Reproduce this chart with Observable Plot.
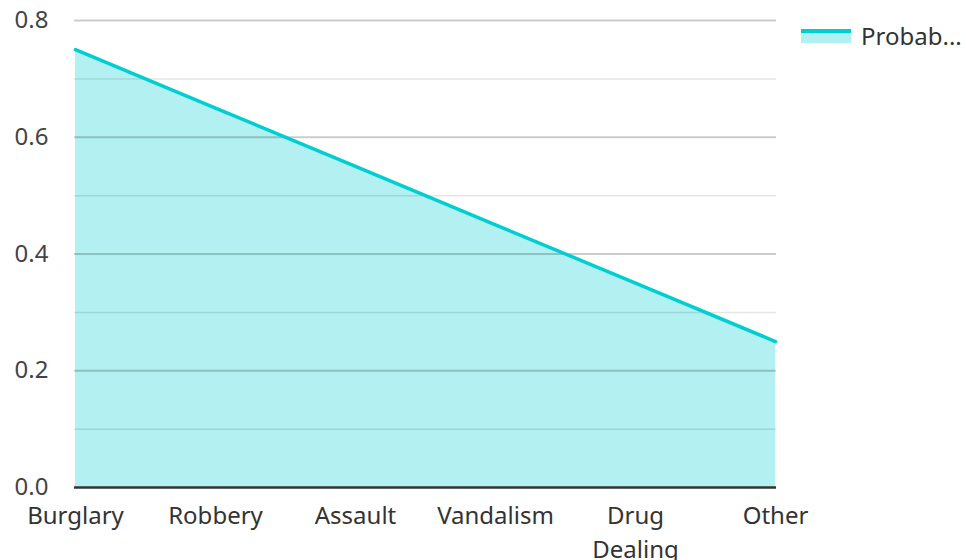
<!DOCTYPE html>
<html>
<head>
<meta charset="utf-8">
<script src="https://cdn.jsdelivr.net/npm/d3@7"></script>
<script src="https://cdn.jsdelivr.net/npm/@observablehq/plot@0.6"></script>
<style>
  html, body { margin: 0; padding: 0; background: #fff; }
  #wrap { position: relative; width: 966px; height: 560px; font-family: "Noto Sans", sans-serif; }
  #legend { position: absolute; left: 801px; top: 19px; display: flex; align-items: center; font-size: 24px; color: #333; white-space: nowrap; }
  #legend .sw { width: 50px; height: 14px; position: relative; margin-right: 10px; }
  #legend .sw .fill { position: absolute; left: 0; top: 4px; width: 50px; height: 10px; background: rgba(0,206,209,0.3); }
  #legend .sw .ln { position: absolute; left: 0; top: 0; width: 50px; height: 4px; background: rgb(0,206,209); }
</style>
</head>
<body>
<div id="wrap"></div>
<script>
const categories = ["Burglary", "Robbery", "Assault", "Vandalism", "Drug Dealing", "Other"];
const probability = [0.75, 0.65, 0.55, 0.45, 0.35, 0.25];
const tickLabels = ["Burglary", "Robbery", "Assault", "Vandalism", "Drug\nDealing", "Other"];
const majorTicks = [0, 0.2, 0.4, 0.6, 0.8];
const minorTicks = [0.1, 0.3, 0.5, 0.7];
const seriesName = "Probability";

const data = categories.map((c, i) => ({category: c, value: probability[i]}));
const labelOf = new Map(categories.map((c, i) => [c, tickLabels[i]]));

const chart = Plot.plot({
  width: 966,
  height: 560,
  marginLeft: 74,
  marginRight: 190,
  marginTop: 20,
  marginBottom: 73,
  style: {fontFamily: "Noto Sans, sans-serif", fontSize: "24px", color: "#444", background: "#fff"},
  x: {type: "point", domain: categories, padding: 0, label: null},
  y: {domain: [0, 0.8], label: null},
  marks: [
    Plot.areaY(data, {x: "category", y: "value", fill: "rgb(0,206,209)", fillOpacity: 0.3}),
    Plot.gridY(minorTicks, {stroke: "#000", strokeOpacity: 0.1, strokeWidth: 1.5}),
    Plot.gridY(majorTicks.filter(d => d > 0), {stroke: "#000", strokeOpacity: 0.2, strokeWidth: 2}),
    Plot.lineY(data, {x: "category", y: "value", stroke: "rgb(0,206,209)", strokeWidth: 3.5}),
    Plot.ruleY([0], {stroke: "#333", strokeWidth: 2.5}),
    Plot.axisY({ticks: majorTicks, tickFormat: d3.format(".1f"), tickSize: 0, tickPadding: 26, fontSize: 24, fill: "#444", label: null}),
    Plot.axisX({tickSize: 0, tickPadding: 13, tickFormat: d => labelOf.get(d), fontSize: 24, fill: "#333", lineHeight: 1.4, label: null})
  ]
});
const wrap = document.getElementById("wrap");
wrap.appendChild(chart);
const legend = document.createElement("div");
legend.id = "legend";
legend.innerHTML = `<div class="sw"><div class="fill"></div><div class="ln"></div></div><span>${seriesName.slice(0,6)}...</span>`;
wrap.appendChild(legend);
</script>
</body>
</html>
